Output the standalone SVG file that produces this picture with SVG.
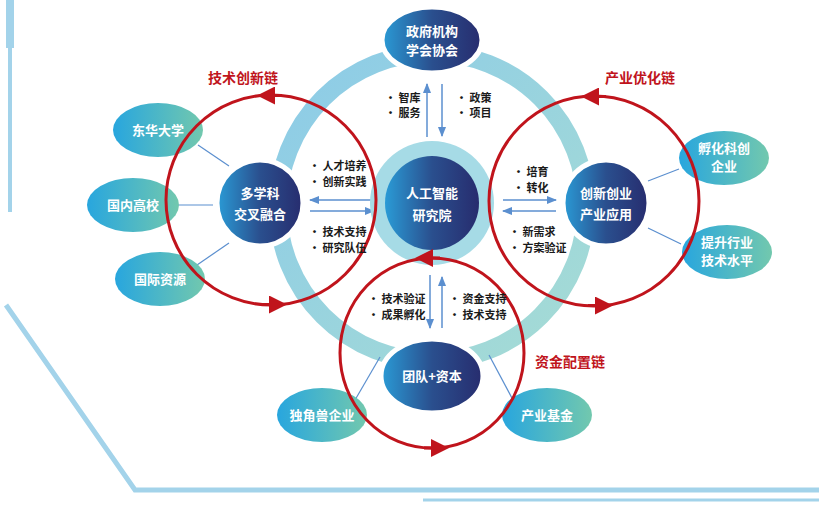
<svg xmlns="http://www.w3.org/2000/svg" width="819" height="515" viewBox="0 0 819 515">
<defs>
<linearGradient id="dk" x1="0" y1="0" x2="1" y2="0"><stop offset="0" stop-color="#2a9bd6"/><stop offset="0.5" stop-color="#2a4f8e"/><stop offset="1" stop-color="#272c6e"/></linearGradient>
<linearGradient id="lt" x1="0" y1="0" x2="1" y2="0"><stop offset="0" stop-color="#28a6de"/><stop offset="1" stop-color="#72c8ae"/></linearGradient>
<linearGradient id="ring" x1="0" y1="0" x2="1" y2="1"><stop offset="0" stop-color="#8ccbe8"/><stop offset="1" stop-color="#a6dcd4"/></linearGradient>
<marker id="ba" viewBox="0 0 10 10" refX="9" refY="5" markerWidth="7" markerHeight="7" orient="auto"><path d="M0,1 L10,5 L0,9 z" fill="#5b8fcf"/></marker>
<marker id="ra" viewBox="0 0 10 10" refX="5" refY="5" markerWidth="6" markerHeight="6" orient="auto"><path d="M0,0 L10,5 L0,10 z" fill="#c0141c"/></marker>
<style>
.sat{fill:url(#lt)}
.dkn{fill:url(#dk);stroke:#fff;stroke-width:5}
.wt{font-family:"Noto Sans CJK SC",sans-serif;font-weight:bold;fill:#fff;font-size:13px;text-anchor:middle}
.bt{font-family:"Noto Sans CJK SC",sans-serif;font-weight:bold;fill:#1a1a1a;font-size:11px}
.rt{font-family:"Noto Sans CJK SC",sans-serif;font-weight:bold;fill:#c0141c;font-size:14px;text-anchor:middle}
.ln{stroke:#5b8fcf;stroke-width:1.2;fill:none}
.ar{stroke:#5b8fcf;stroke-width:1.5;fill:none;marker-end:url(#ba)}
.red{stroke:#c0141c;stroke-width:3;fill:none}
.deco{stroke:#a3d3ea;fill:none}
</style>
</defs>
<rect width="819" height="515" fill="#fff"/>
<g id="decor">
<line class="deco" x1="10" y1="0" x2="10" y2="48" stroke-width="8"/>
<line class="deco" x1="10" y1="48" x2="10" y2="212" stroke-width="4"/>
<polyline class="deco" points="6,305 135,490 819,490" stroke-width="5"/>
<line class="deco" x1="423" y1="500" x2="819" y2="500" stroke-width="3"/>
</g>
<circle cx="432" cy="207" r="154" fill="none" stroke="url(#ring)" stroke-width="18"/>
<g id="connectors">
<line class="ln" x1="198" y1="145" x2="229" y2="166"/>
<line class="ln" x1="178" y1="205" x2="213" y2="205"/>
<line class="ln" x1="197" y1="265" x2="229" y2="243"/>
<line class="ln" x1="679" y1="169" x2="648" y2="181"/>
<line class="ln" x1="681" y1="244" x2="648" y2="228"/>
<line class="ln" x1="355" y1="400" x2="380" y2="357"/>
<line class="ln" x1="513" y1="400" x2="489" y2="355"/>
<line class="ar" x1="427" y1="137" x2="427" y2="84"/>
<line class="ar" x1="442" y1="84" x2="442" y2="136"/>
<line class="ar" x1="374" y1="200" x2="310" y2="200"/>
<line class="ar" x1="310" y1="211" x2="374" y2="211"/>
<line class="ar" x1="503" y1="200" x2="556" y2="200"/>
<line class="ar" x1="556" y1="211" x2="503" y2="211"/>
<line class="ar" x1="430" y1="275" x2="430" y2="328"/>
<line class="ar" x1="442" y1="328" x2="442" y2="277"/>
</g>
<g id="dongh"><ellipse class="sat" cx="158" cy="130" rx="45" ry="27"/><text class="wt" x="158" y="135">东华大学</text></g>
<g id="guonei"><ellipse class="sat" cx="133" cy="205" rx="46" ry="27"/><text class="wt" x="133" y="210">国内高校</text></g>
<g id="guoji"><ellipse class="sat" cx="160" cy="279" rx="45" ry="27"/><text class="wt" x="160" y="284">国际资源</text></g>
<g id="fuhua"><ellipse class="sat" cx="724" cy="158" rx="45" ry="27"/><text class="wt" x="724" y="153">孵化科创</text><text class="wt" x="724" y="171">企业</text></g>
<g id="tisheng"><ellipse class="sat" cx="727" cy="252" rx="45" ry="27"/><text class="wt" x="727" y="247">提升行业</text><text class="wt" x="727" y="265">技术水平</text></g>
<g id="dujiao"><ellipse class="sat" cx="322" cy="415" rx="45" ry="27"/><text class="wt" x="322" y="420">独角兽企业</text></g>
<g id="chanye"><ellipse class="sat" cx="547" cy="415" rx="45" ry="27"/><text class="wt" x="547" y="420">产业基金</text></g>
<g id="gov"><ellipse class="dkn" cx="432" cy="40" rx="50" ry="33"/><text class="wt" x="432" y="36">政府机构</text><text class="wt" x="432" y="55">学会协会</text></g>
<g id="center"><circle cx="432" cy="203" r="62" fill="#a6dbe6"/><circle cx="432" cy="203" r="47" fill="url(#dk)"/><text class="wt" x="432" y="198">人工智能</text><text class="wt" x="432" y="220">研究院</text></g>
<g id="duoxue"><circle class="dkn" cx="260" cy="203" r="43"/><text class="wt" x="260" y="198">多学科</text><text class="wt" x="260" y="219">交叉融合</text></g>
<g id="chuangxin"><circle class="dkn" cx="606" cy="203" r="43"/><text class="wt" x="606" y="198">创新创业</text><text class="wt" x="606" y="219">产业应用</text></g>
<g id="team"><ellipse class="dkn" cx="432" cy="376" rx="51" ry="37"/><text class="wt" x="432" y="381">团队+资本</text></g>
<g id="chains">
<circle class="red" cx="271" cy="200" r="105"/>
<path d="M282,95.5 L266,95.5" stroke="#c0141c" stroke-width="3" marker-end="url(#ra)"/>
<path d="M262,304.5 L278,304.5" stroke="#c0141c" stroke-width="3" marker-end="url(#ra)"/>
<circle class="red" cx="594" cy="201" r="105"/>
<path d="M606,96.5 L590,96.5" stroke="#c0141c" stroke-width="3" marker-end="url(#ra)"/>
<path d="M588,305.5 L604,305.5" stroke="#c0141c" stroke-width="3" marker-end="url(#ra)"/>
<ellipse class="red" cx="432" cy="353" rx="92" ry="95"/>
<path d="M440,258 L424,258" stroke="#c0141c" stroke-width="3" marker-end="url(#ra)"/>
<path d="M424,448 L440,448" stroke="#c0141c" stroke-width="3" marker-end="url(#ra)"/>
<text class="rt" x="243" y="83">技术创新链</text>
<text class="rt" x="640" y="83">产业优化链</text>
<text class="rt" x="570" y="367">资金配置链</text>
</g>
<g id="labels">
<text class="bt" x="385" y="102">• 智库</text><text class="bt" x="385" y="117">• 服务</text>
<text class="bt" x="456" y="102">• 政策</text><text class="bt" x="456" y="117">• 项目</text>
<text class="bt" x="309" y="170">• 人才培养</text><text class="bt" x="309" y="186">• 创新实践</text>
<text class="bt" x="309" y="236">• 技术支持</text><text class="bt" x="309" y="252">• 研究队伍</text>
<text class="bt" x="513" y="176">• 培育</text><text class="bt" x="513" y="192">• 转化</text>
<text class="bt" x="509" y="236">• 新需求</text><text class="bt" x="509" y="252">• 方案验证</text>
<text class="bt" x="368" y="303">• 技术验证</text><text class="bt" x="368" y="319">• 成果孵化</text>
<text class="bt" x="449" y="303">• 资金支持</text><text class="bt" x="449" y="319">• 技术支持</text>
</g>
</svg>
